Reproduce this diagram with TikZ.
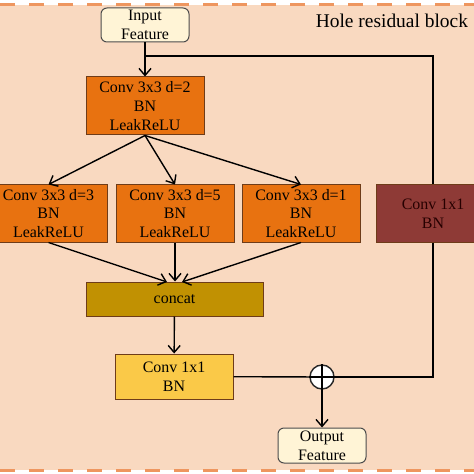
\documentclass[tikz,border=0pt]{standalone}
\usepackage{fontspec}
\setmainfont{Liberation Serif}
\usetikzlibrary{positioning, arrows, arrows.meta}
\definecolor{peach}{RGB}{249,217,192}
\definecolor{dashorange}{RGB}{238,150,95}
\definecolor{cream}{RGB}{255,244,214}
\definecolor{convorange}{RGB}{232,114,16}
\definecolor{concatgold}{RGB}{193,145,2}
\definecolor{bnyellow}{RGB}{250,201,72}
\definecolor{skipred}{RGB}{142,58,54}
\definecolor{edgebrown}{RGB}{110,60,25}
\tikzset{>={Straight Barb[length=7bp, width=12bp]},
	block/.style={draw=edgebrown, line width=1bp, inner sep=0pt, align=center, font=\fontsize{16}{19}\selectfont},
	feature/.style={block, draw=black!70, fill=cream, rounded corners=6bp, minimum width=88bp, minimum height=34bp}}

\begin{document}
\begin{tikzpicture}[x=1bp, y=-1bp, line width=1.4bp]
	\useasboundingbox (0,0) rectangle (474,474);
	\fill[peach] (0,5) rectangle (474,470);
	\draw[dashorange, line width=3bp, dash pattern=on 15bp off 14bp] (0,5) -- (474,5) (0,470) -- (474,470);
	\node[anchor=base east, font=\fontsize{19.5}{23}\selectfont] (Title) at (472,28) {Hole residual block};
	\node[feature] (Input) at (145,25) {Input\\ Feature};
	\node[block, fill=convorange, minimum width=118bp, minimum height=58bp] (Conv d2) at (145,106) {Conv 3x3 d=2\\ BN\\ LeakReLU};
	\node[block, fill=convorange, minimum width=118bp, minimum height=57bp] (Conv d3) at (48.5,213.5) {Conv 3x3 d=3\\ BN\\ LeakReLU};
	\node[block, fill=convorange, minimum width=118bp, minimum height=57bp, right=7.5bp of Conv d3] (Conv d5) {Conv 3x3 d=5\\ BN\\ LeakReLU};
	\node[block, fill=convorange, minimum width=118bp, minimum height=57bp, right=7bp of Conv d5] (Conv d1) {Conv 3x3 d=1\\ BN\\ LeakReLU};
	\node[block, fill=skipred, text=black!85!red, minimum width=114bp, minimum height=57bp] (Skip Conv) at (433,213.5) {Conv 1x1\\ BN};
	\node[block, fill=concatgold, minimum width=177bp, minimum height=34bp] (Concat) at (174.5,299) {concat};
	\node[block, fill=bnyellow, minimum width=118bp, minimum height=45bp] (Fuse Conv) at (174,376.5) {Conv 1x1\\ BN};
	\node[circle, draw=black!85, line width=1.4bp, fill=white, minimum size=24bp, inner sep=0pt] (Sum) at (322,377) {};
	\node[feature, minimum height=35bp] (Output) at (322,445.5) {Output\\ Feature};
	\coordinate (Skip) at (433,56);
	\coordinate (Merge L) at (167,282);
	\coordinate (Merge R) at (182,282);
	\draw (Sum.north) -- (Sum.south) (Sum.west) -- (Sum.east);
	\draw[->] (Input) -- (Conv d2);
	\draw[->] (Conv d2.south) -- (Conv d3.north);
	\draw[->] (Conv d2.south) -- (Conv d5.north);
	\draw[->] (Conv d2.south) -- (Conv d1.north);
	\draw[->] (Conv d3.south) -- (Merge L);
	\draw[->] (Conv d5.south) -- (Conv d5.south |- Concat.north);
	\draw[->] (Conv d1.south) -- (Merge R);
	\draw[->] (Concat) -- (Fuse Conv);
	\draw[->] (Sum) -- (Output);
	\draw (Input.south |- Skip) -- (Skip) -- (Skip Conv);
	\draw (Skip Conv) -- (Skip Conv |- Sum) -- (Sum);
	\draw (Fuse Conv) -- (Sum);
\end{tikzpicture}
\end{document}
